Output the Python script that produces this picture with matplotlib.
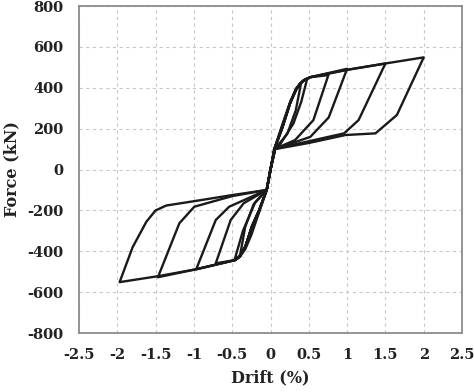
import matplotlib
matplotlib.use("Agg")
import matplotlib.pyplot as plt

# hysteresis cycles: (drift %, force kN) points per cycle
cycle_drift = {
    "0.375": [0.05, 0.15, 0.26, 0.34, 0.40, 0.33, 0.22, 0.06, 0.00, -0.05,
              -0.15, -0.25, -0.33, -0.40, -0.33, -0.22, -0.05, 0.00, 0.05],
    "0.5": [0.05, 0.15, 0.26, 0.35, 0.42, 0.48, 0.40, 0.30, 0.12, 0.06, 0.00, -0.05,
            -0.15, -0.245, -0.33, -0.40, -0.47, -0.36, -0.20, -0.05, 0.00, 0.05],
    "0.75": [0.05, 0.15, 0.255, 0.33, 0.385, 0.45, 0.52, 0.755, 0.56, 0.32, 0.06, 0.00, -0.05,
             -0.15, -0.245, -0.33, -0.40, -0.46, -0.715, -0.52, -0.35, -0.05, 0.00, 0.05],
    "1.0": [0.05, 0.15, 0.255, 0.33, 0.385, 0.45, 0.52, 1.0, 0.76, 0.52, 0.06, 0.00, -0.05,
            -0.15, -0.245, -0.33, -0.40, -0.46, -0.97, -0.715, -0.54, -0.05, 0.00, 0.05],
    "1.5": [0.05, 0.15, 0.255, 0.33, 0.385, 0.45, 0.52, 1.0, 1.5, 1.15, 0.96, 0.47, 0.06, 0.00, -0.05,
            -0.15, -0.245, -0.33, -0.40, -0.46, -0.97, -1.47, -1.19, -0.995, -0.50, -0.05, 0.00, 0.05],
    "2.0": [0.05, 0.15, 0.255, 0.33, 0.385, 0.45, 0.52, 1.0, 1.5, 2.0, 1.65, 1.37, 0.98, 0.50, 0.06, 0.00, -0.05,
            -0.15, -0.245, -0.33, -0.40, -0.46, -0.97, -1.47, -1.97, -1.80, -1.62, -1.50, -1.36, -1.0, -0.50, -0.05, 0.00, 0.05],
}
cycle_force = {
    "0.375": [100, 215, 335, 400, 425, 290, 175, 102, 0, -100,
              -210, -320, -390, -425, -280, -170, -100, 0, 100],
    "0.5": [100, 210, 330, 400, 435, 446, 330, 226, 120, 102, 0, -100,
            -205, -285, -375, -420, -443, -300, -160, -100, 0, 100],
    "0.75": [100, 200, 324, 390, 420, 440, 452, 462, 242, 144, 102, 0, -100,
             -200, -280, -380, -426, -443, -459, -247, -165, -100, 0, 100],
    "1.0": [100, 200, 324, 390, 420, 440, 452, 493, 255, 160, 100, 0, -100,
            -200, -280, -380, -426, -443, -488, -247, -182, -100, 0, 100],
    "1.5": [100, 200, 324, 390, 420, 440, 452, 488, 519, 242, 177, 136, 102, 0, -100,
            -200, -280, -380, -426, -443, -488, -527, -263, -182, -130, -100, 0, 100],
    "2.0": [100, 200, 324, 390, 420, 440, 452, 488, 519, 549, 267, 177, 169, 130, 100, 0, -100,
            -200, -280, -380, -426, -443, -488, -522, -551, -380, -255, -200, -176, -155, -125, -100, 0, 100],
}

x_ticks = [-2.5, -2, -1.5, -1, -0.5, 0, 0.5, 1, 1.5, 2, 2.5]
y_ticks = [-800, -600, -400, -200, 0, 200, 400, 600, 800]

plt.rcParams["font.family"] = ["DejaVu Serif"]
plt.rcParams["font.weight"] = "bold"

fig = plt.figure(figsize=(4.74, 3.92), dpi=100)
ax = fig.add_axes([0.1667, 0.1505, 0.808, 0.834])

for key in cycle_drift:
    ax.plot(cycle_drift[key], cycle_force[key], color="#1a1a1a", linewidth=1.7,
            solid_joinstyle="round")

ax.set_xlim(-2.5, 2.5)
ax.set_ylim(-800, 800)
ax.set_xticks(x_ticks)
ax.set_yticks(y_ticks)
ax.set_xticklabels([f"{v:g}" for v in x_ticks])
ax.set_yticklabels([f"{v:g}" for v in y_ticks])
ax.tick_params(length=0, labelsize=10.5, colors="#222222")
ax.tick_params(axis="y", pad=11)
ax.tick_params(axis="x", pad=11)
ax.grid(True, color="#c8c8c8", linestyle=(0, (3, 3)), linewidth=0.8)
for s in ax.spines.values():
    s.set_color("#8c8c8c")
    s.set_linewidth(1.3)

ax.set_xlabel("Drift (%)", fontsize=11.5, fontweight="bold", color="#222222", labelpad=5)
ax.set_ylabel("Force (kN)", fontsize=11.5, fontweight="bold", color="#222222", labelpad=5)

fig.savefig("out.png", dpi=100)
